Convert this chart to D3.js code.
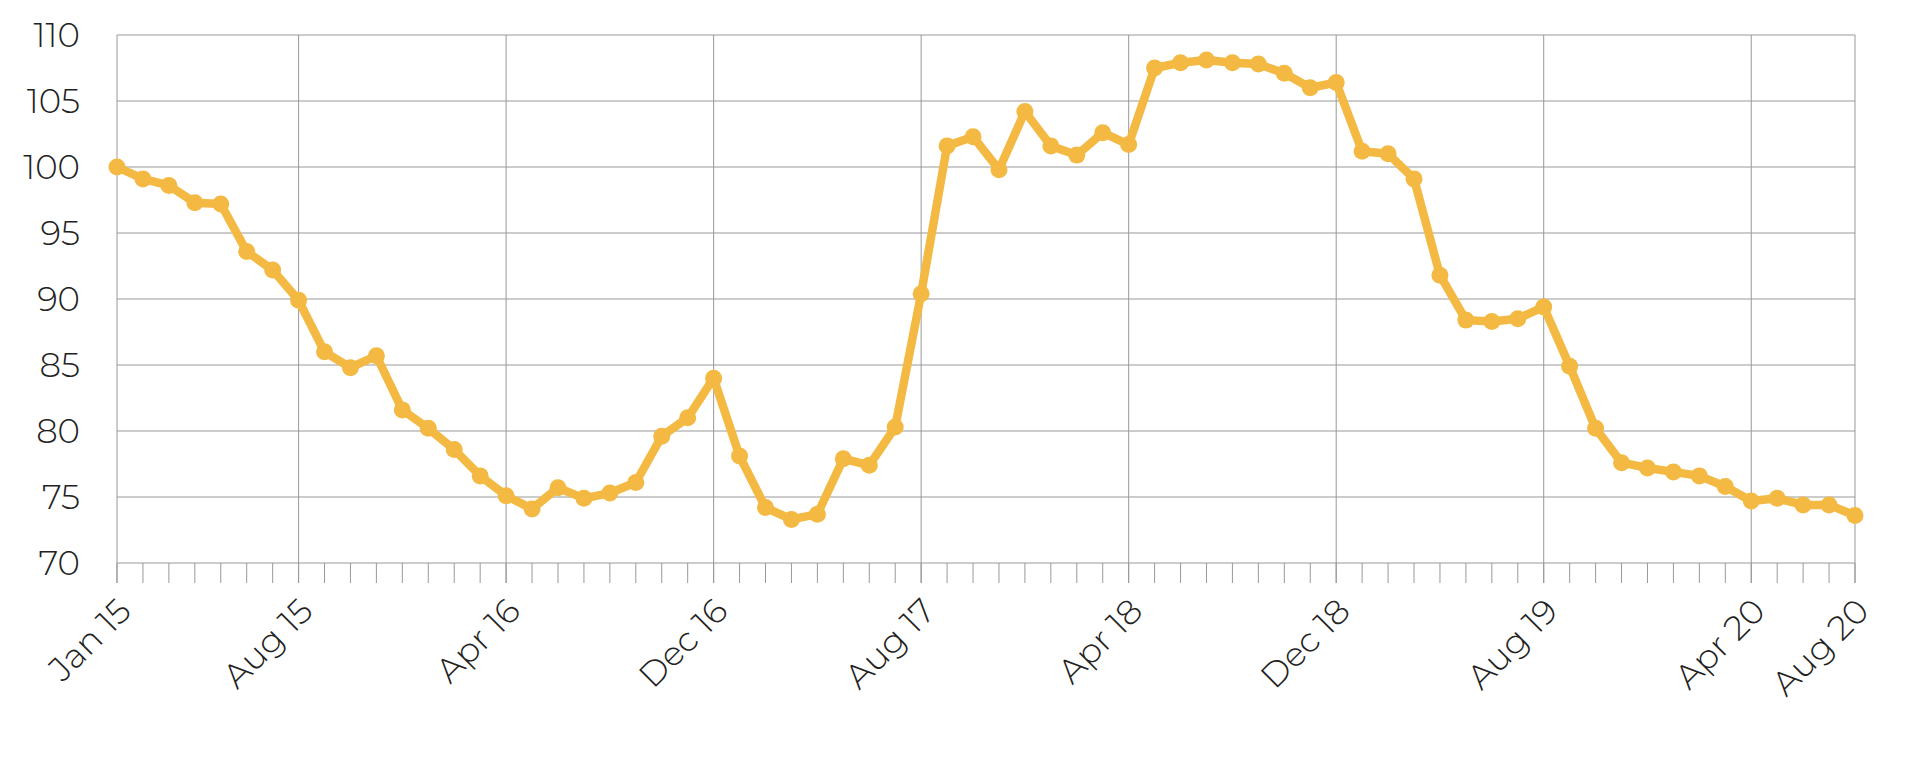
<!DOCTYPE html><html><head><meta charset="utf-8"><script src="https://cdn.jsdelivr.net/npm/d3@7"></script>
<style>body{margin:0;background:#fff}svg{display:block}text{font-family:Montserrat,"Open Sans",Lato,sans-serif;font-weight:300;fill:#222}</style></head><body><svg id="c" width="1912" height="757"></svg><script>
const monthNames=["Jan","Feb","Mar","Apr","May","Jun","Jul","Aug","Sep","Oct","Nov","Dec"];
const values=[100,99.1,98.6,97.3,97.2,93.6,92.2,89.9,86,84.8,85.7,81.6,80.2,78.6,76.6,75.1,74.1,75.7,74.9,75.3,76.1,79.6,81,84,78.1,74.2,73.3,73.7,77.9,77.4,80.3,90.4,101.6,102.3,99.8,104.2,101.6,100.9,102.6,101.7,107.5,107.9,108.1,107.9,107.8,107.1,106,106.4,101.2,101,99.1,91.8,88.4,88.3,88.5,89.4,84.9,80.2,77.6,77.2,76.9,76.6,75.8,74.7,74.9,74.4,74.4,73.6];
const months=values.map((v,i)=>monthNames[i%12]+" "+(15+Math.floor(i/12)));
const labelIdx=[0,7,15,23,31,39,47,55,63,67];
const yTicks=[70,75,80,85,90,95,100,105,110];
const svg=d3.select("#c");
const x=d3.scalePoint().domain(months).range([117,1855]);
const y=d3.scaleLinear().domain([70,110]).range([563,35]);
svg.append("g").selectAll("line").data(yTicks).join("line").attr("x1",117).attr("x2",1855).attr("y1",d=>y(d)).attr("y2",d=>y(d)).attr("stroke","#999").attr("stroke-width",1);
svg.append("g").selectAll("line").data(labelIdx).join("line").attr("x1",i=>x(months[i])).attr("x2",i=>x(months[i])).attr("y1",y(110)).attr("y2",583).attr("stroke","#999");
svg.append("g").selectAll("line").data(months).join("line").attr("x1",d=>x(d)).attr("x2",d=>x(d)).attr("y1",563).attr("y2",583).attr("stroke","#999");
svg.append("g").selectAll("text").data(yTicks).join("text").attr("x",80).attr("y",d=>y(d)+12).attr("text-anchor","end").attr("font-size",34).text(d=>d);
svg.append("g").selectAll("text").data(labelIdx).join("text").attr("font-size",34).attr("text-anchor","end")
 .attr("transform",i=>`translate(${x(months[i])+16},${613}) rotate(-45)`).text(i=>months[i]);
const line=d3.line().x((d,i)=>x(months[i])).y(d=>y(d));
svg.append("path").datum(values).attr("d",line).attr("fill","none").attr("stroke","#F4B942").attr("stroke-width",8.5).attr("stroke-linejoin","round");
svg.append("g").selectAll("circle").data(values).join("circle").attr("cx",(d,i)=>x(months[i])).attr("cy",d=>y(d)).attr("r",8.5).attr("fill","#F4B942");
</script></body></html>
